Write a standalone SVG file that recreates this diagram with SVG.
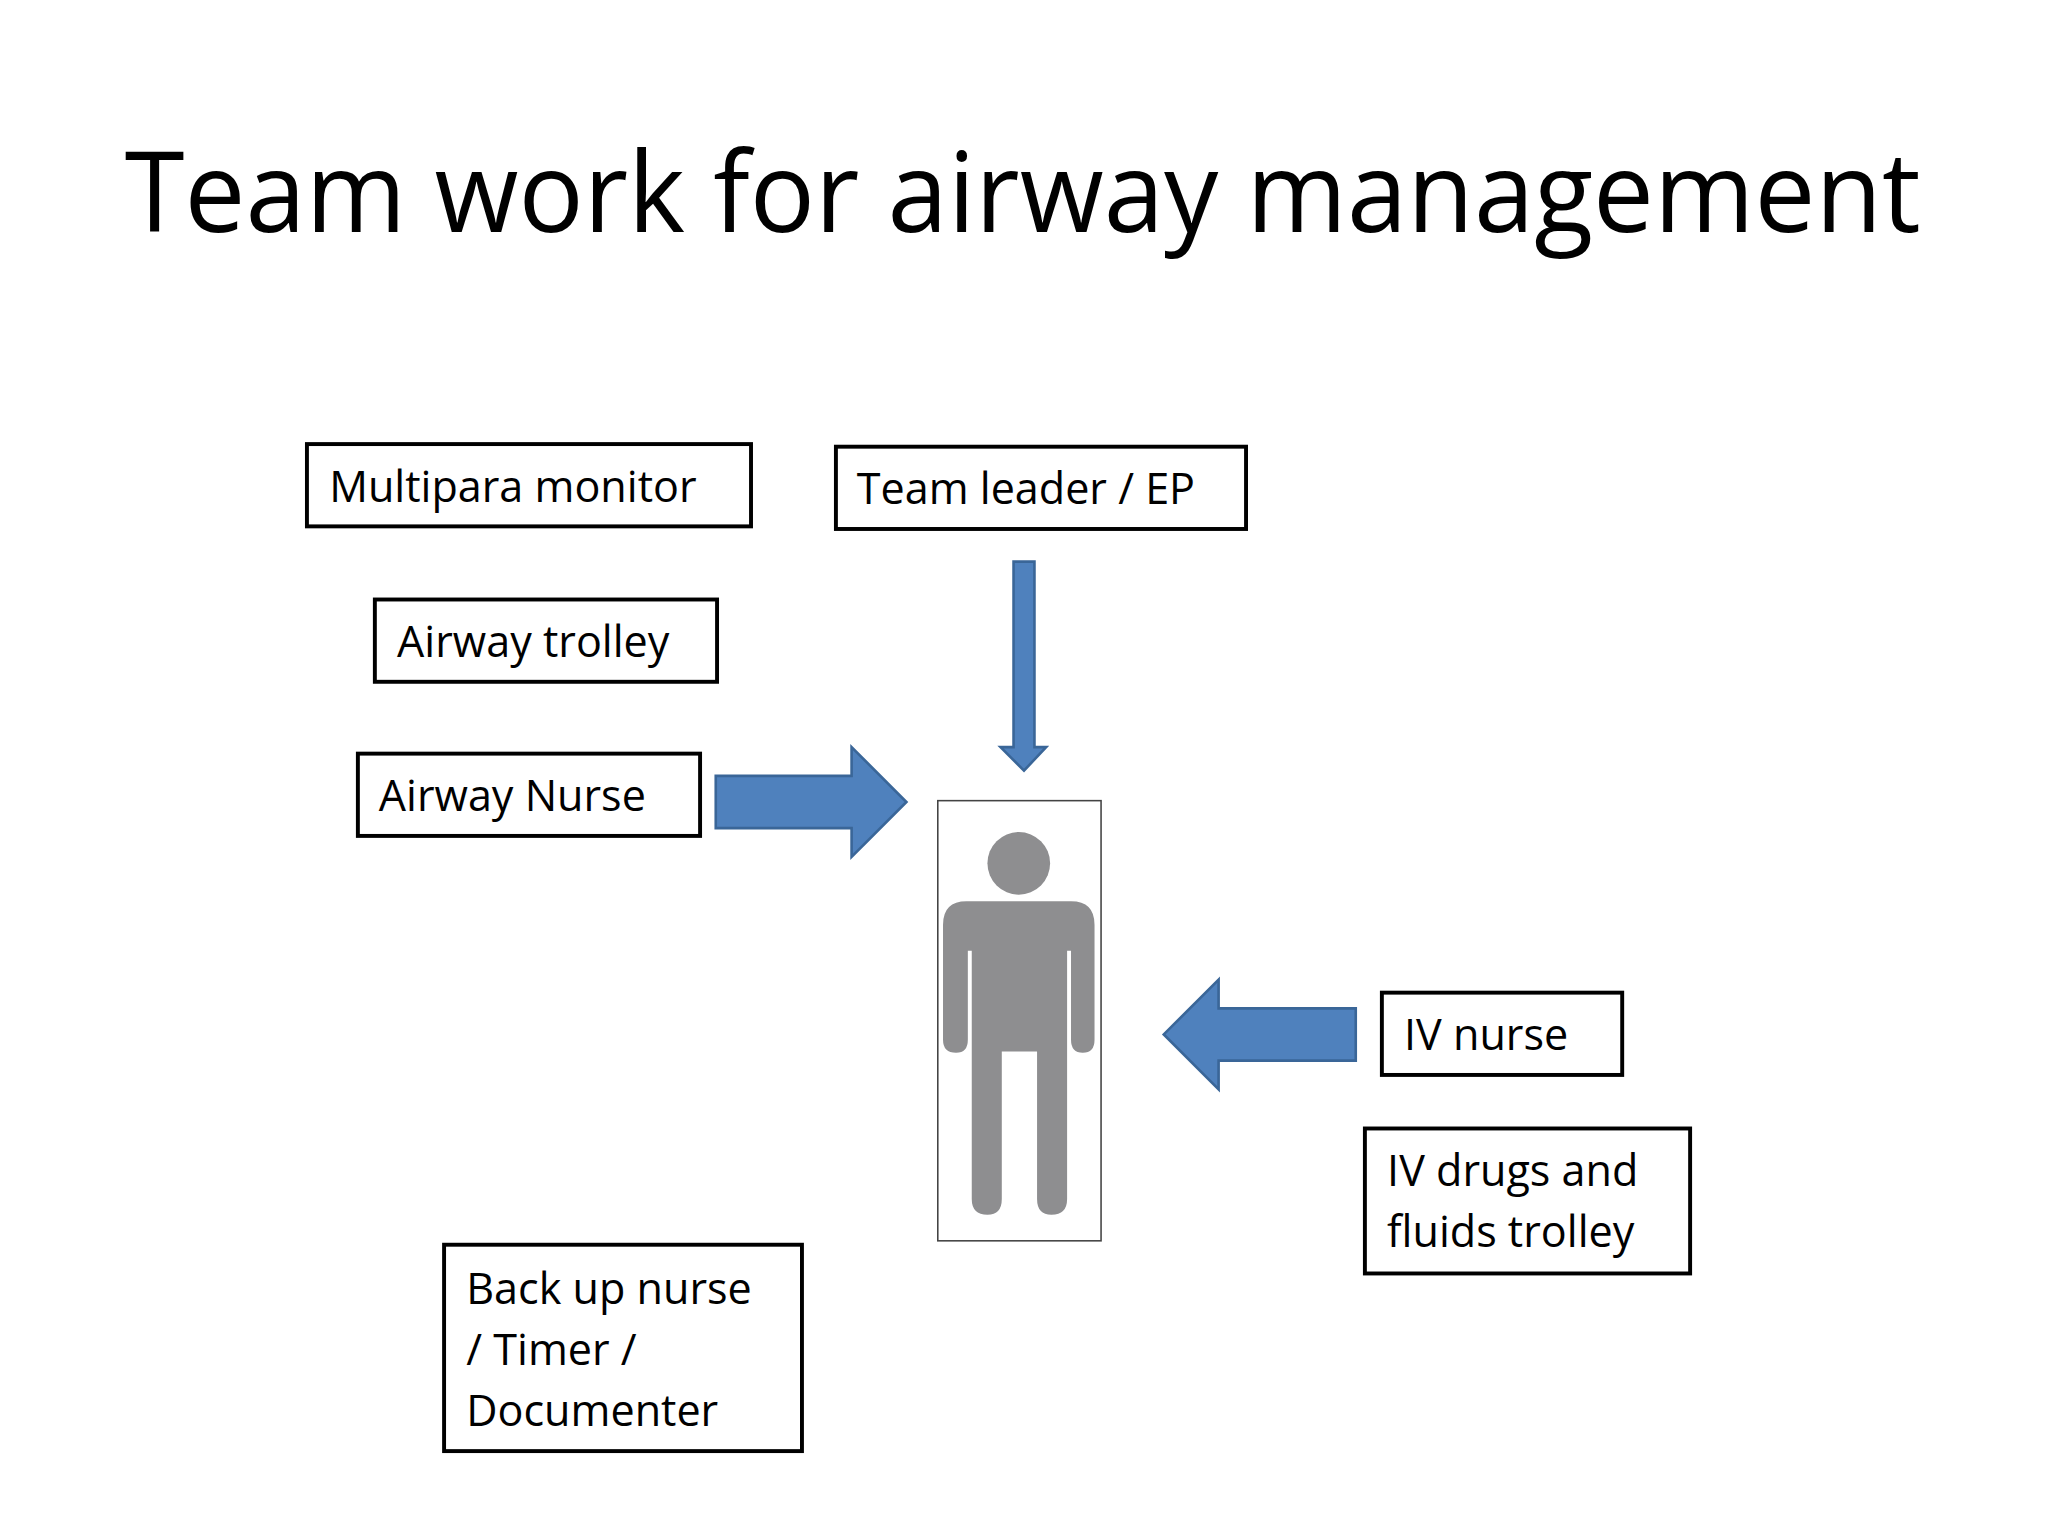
<svg xmlns="http://www.w3.org/2000/svg" width="2048" height="1536" viewBox="0 0 2048 1536">
<style>
.box{fill:#fff;stroke:#000;stroke-width:3}
.t{font-family:"Open Sans","Liberation Sans",sans-serif;font-size:33px;fill:#000}
.arr{fill:#4F81BD;stroke:#3A6698;stroke-width:2}
</style>
<rect width="2048" height="1536" fill="#fff"/>
<g transform="scale(1.30612)">
<text x="783" y="178" text-anchor="middle" font-family="Open Sans, Liberation Sans, sans-serif" font-size="86" textLength="1375" lengthAdjust="spacingAndGlyphs">Team work for airway management</text>
<g id="patient">
<rect x="718" y="613" width="125" height="337" fill="#fff" stroke="#444" stroke-width="1.2"/>
<circle cx="780" cy="661" r="24" fill="#8E8E90"/>
<path d="M740,690 H820 Q838,690 838,708 V796 Q838,806 829,806 Q820,806 820,796 V728 H817 V918 Q817,930 805,930 Q794,930 794,918 V805 H767 V918 Q767,930 756,930 Q744,930 744,918 V728 H741 V796 Q741,806 732,806 Q722,806 722,796 V708 Q722,690 740,690 Z" fill="#8E8E90"/>
</g>
<g id="connectors">
<path class="arr" d="M776,430 H792 V572 H801 L784,590 L766,572 H776 Z"/>
<path class="arr" d="M548,594 H652 V572 L694,614 L652,656 V634 H548 Z"/>
<path class="arr" d="M1038,772 H933 V750 L891,792 L933,834 V812 H1038 Z"/>
</g>
<g id="multipara"><rect class="box" x="235" y="340" width="340" height="63"/><text class="t" x="252" y="384">Multipara monitor</text></g>
<g id="teamleader"><rect class="box" x="640" y="342" width="314" height="63"/><text class="t" x="656" y="386">Team leader / EP</text></g>
<g id="trolley"><rect class="box" x="287" y="459" width="262" height="63"/><text class="t" x="304" y="503">Airway trolley</text></g>
<g id="airwaynurse"><rect class="box" x="274" y="577" width="262" height="63"/><text class="t" x="290" y="621">Airway Nurse</text></g>
<g id="ivnurse"><rect class="box" x="1058" y="760" width="184" height="63"/><text class="t" x="1075" y="804">IV nurse</text></g>
<g id="ivdrugs"><rect class="box" x="1045" y="864" width="249" height="111"/><text class="t" x="1062" y="908">IV drugs and</text><text class="t" x="1062" y="955">fluids trolley</text></g>
<g id="backup"><rect class="box" x="340" y="953" width="274" height="158"/><text class="t" x="357" y="998">Back up nurse</text><text class="t" x="357" y="1045">/ Timer /</text><text class="t" x="357" y="1092">Documenter</text></g>
</g>
</svg>
